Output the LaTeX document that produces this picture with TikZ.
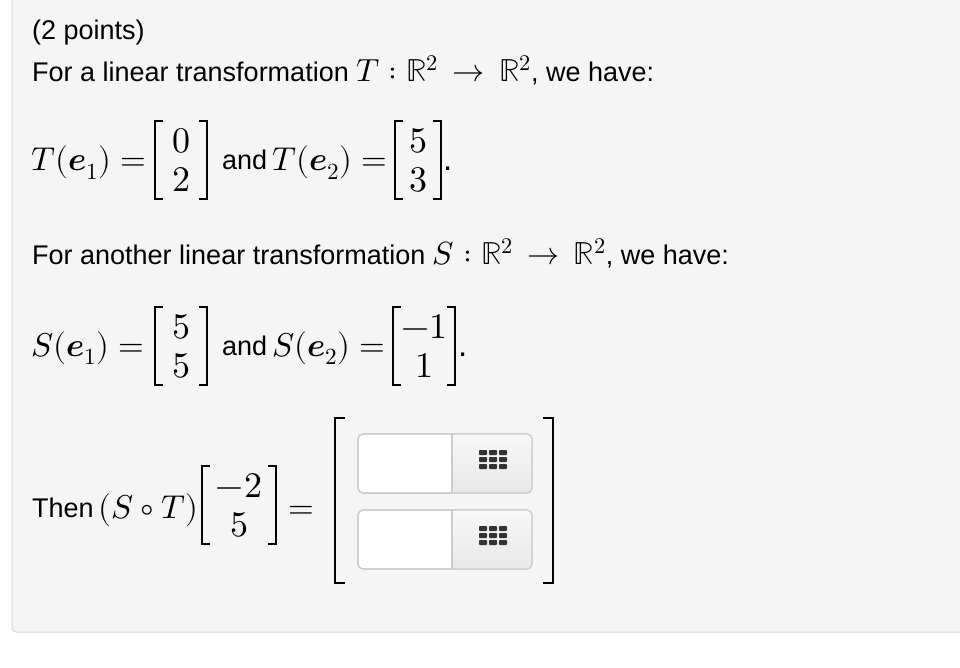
\documentclass[tikz,border=0pt]{standalone}
\usepackage{amsmath,amssymb}
\usepackage{fontspec}
\setmainfont{Liberation Sans}
\usepackage{unicode-math}
\setmathfont{Latin Modern Math}
\newcommand{\bme}{\symbfit{e}}
\newcommand{\mm}{\fontsize{32}{36}\selectfont}
\begin{document}
\begin{tikzpicture}[x=1pt,y=-1pt,
  txt/.style={anchor=base west,inner sep=0pt,font=\fontsize{27}{31}\selectfont},
  mth/.style={anchor=base west,inner sep=0pt,font=\fontsize{33}{38}\selectfont},
  ent/.style={inner sep=0pt,font=\fontsize{36}{40}\selectfont},
  brk/.style={line width=2pt},
  field/.style={draw=black!20,line width=1.2pt,rounded corners=5pt,fill=white},
  dot/.style={fill=black!80,rounded corners=0.8pt}]
\useasboundingbox (0,0) rectangle (960,668);
\fill[white] (0,0) rectangle (960,668);
\draw[black!15,fill=black!4,line width=1pt,rounded corners=4pt] (12,-10) rectangle (975,632);
\node[txt] (pts) at (32,40) {(2 points)};
\node[txt] (l1) at (32,82) {For a linear transformation {\mm$T:\mathbb{R}^2\,\rightarrow\,\mathbb{R}^2$}, we have:};
\node[txt] (l2) at (32,265) {For another linear transformation {\mm$S:\mathbb{R}^2\,\rightarrow\,\mathbb{R}^2$}, we have:};
% labels
\node[mth] (ta) at (31,171) {$T(\bme_1)=$};
\node[txt] (tand) at (222,170) {and};
\node[mth] (tb) at (272,171) {$T(\bme_2)=$};
\node[mth] (tdot) at (443,171) {.};
\node[mth] (sa) at (31,356) {$S(\bme_1)=$};
\node[txt] (sand) at (222,355) {and};
\node[mth] (sb) at (272,356) {$S(\bme_2)=$};
\node[mth] (sdot) at (458,356) {.};
\node[txt] (then) at (32,517) {Then};
\node[mth] (st) at (98,518) {$(S\circ T)$};
\node[mth] (eq) at (288,518) {$=$};
% matrices: left x, right x, center y, top, bottom
\foreach \l/\r/\c/\a/\b/\n in {155/207/160/0/2/tm1, 395/441/160/5/3/tm2,
   155/207/346/5/5/sm1, 393/455/346/-1/1/sm2, 202/276/505/-2/5/stm}{
  \draw[brk] (\l+8,\c-39) -- (\l,\c-39) -- (\l,\c+39) -- (\l+8,\c+39);
  \draw[brk] (\r-8,\c-39) -- (\r,\c-39) -- (\r,\c+39) -- (\r-8,\c+39);
  \node[ent] (\n a) at ({(\l+\r)/2},\c-19) {$\a$};
  \node[ent] (\n b) at ({(\l+\r)/2},\c+20) {$\b$};
}
\draw[line width=2pt] (345,418) -- (335,418) -- (335,583) -- (345,583);
\draw[line width=2pt] (543,418) -- (553,418) -- (553,583) -- (543,583);
\foreach \y/\n in {434/a,510/b}{
  \draw[field] (358,\y) rectangle (532,\y+59);
  \begin{scope}
   \clip[rounded corners=5pt] (452,\y) rectangle (532,\y+59);
   \shade[top color=black!3,bottom color=black!9] (452,\y) rectangle (532,\y+59);
  \end{scope}
  \draw[field,fill=none] (358,\y) rectangle (532,\y+59);
  \draw[black!20,line width=1.2pt] (452,\y) -- (452,\y+59);
  \foreach \i in {0,1,2}\foreach \j in {0,1,2}
    \fill[dot] (479+\i*10,\y+16+\j*7) rectangle ++(8,5);
}
\end{tikzpicture}
\end{document}
